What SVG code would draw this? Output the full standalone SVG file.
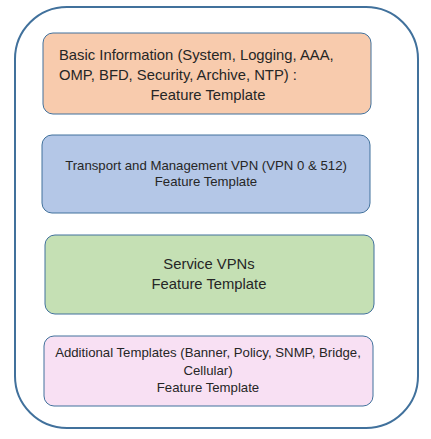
<svg xmlns="http://www.w3.org/2000/svg" width="431" height="439" viewBox="0 0 431 439">
<style>
.box{stroke:#41719C;stroke-width:1}
.t{font-family:"Liberation Sans",Arial,sans-serif;fill:#262626}
.l{font-size:14.8px}
.s{font-size:13.2px}
</style>
<rect width="431" height="439" fill="#fff"/>
<g id="container">
<rect x="15" y="7" width="403" height="421" rx="52" ry="52" fill="#fff" stroke="#41719C" stroke-width="2"/>
</g>
<g id="basic">
<rect class="box" x="43" y="33" width="328" height="81" rx="10" fill="#F8CBAD"/>
<text class="t l" x="59" y="60">Basic Information (System, Logging, AAA,</text>
<text class="t l" x="59" y="80">OMP, BFD, Security, Archive, NTP) :</text>
<text class="t l" x="208" y="100" text-anchor="middle">Feature Template</text>
</g>
<g id="transport">
<rect class="box" x="42" y="135" width="328" height="78" rx="10" fill="#B4C7E7"/>
<text class="t s" x="206" y="170" text-anchor="middle">Transport and Management VPN (VPN 0 &amp; 512)</text>
<text class="t s" x="206" y="186" text-anchor="middle">Feature Template</text>
</g>
<g id="service">
<rect class="box" x="45" y="235" width="329" height="79" rx="10" fill="#C5E0B4"/>
<text class="t l" x="209" y="269" text-anchor="middle">Service VPNs</text>
<text class="t l" x="209" y="289" text-anchor="middle">Feature Template</text>
</g>
<g id="additional">
<rect class="box" x="44" y="336" width="329" height="70" rx="10" fill="#F8E0F3"/>
<text class="t s" x="208" y="357" text-anchor="middle">Additional Templates (Banner, Policy, SNMP, Bridge,</text>
<text class="t s" x="208" y="375" text-anchor="middle">Cellular)</text>
<text class="t s" x="208" y="392" text-anchor="middle">Feature Template</text>
</g>
<g id="connectors"></g>
</svg>
